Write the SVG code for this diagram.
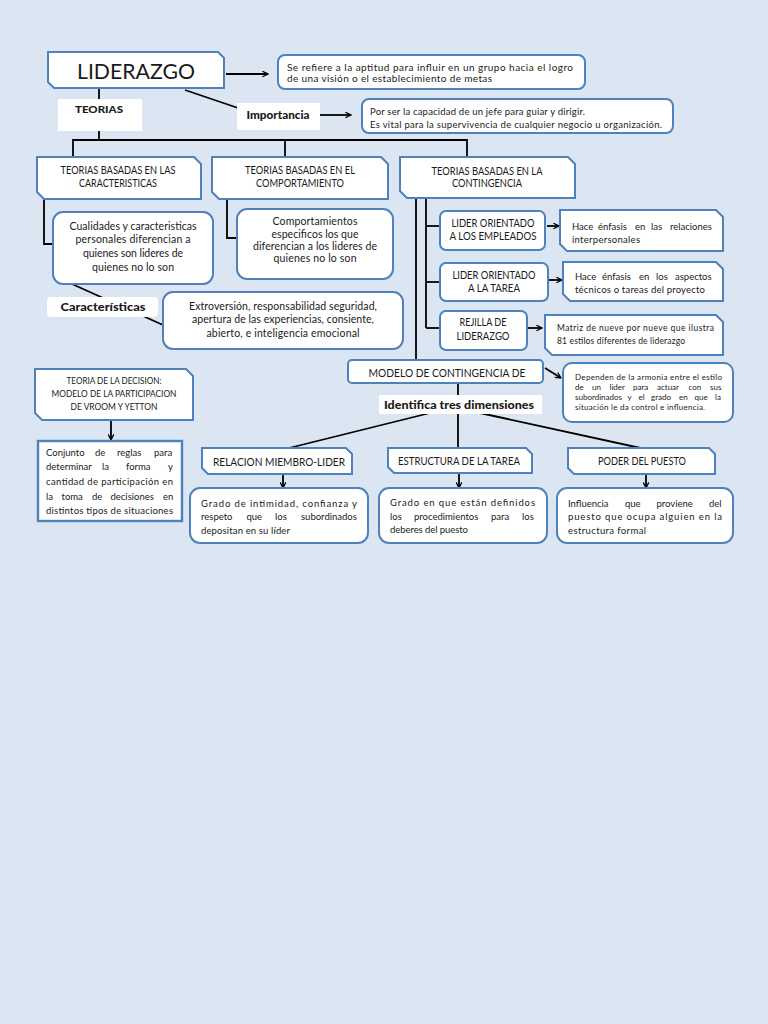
<svg xmlns="http://www.w3.org/2000/svg" width="768" height="1024" viewBox="0 0 768 1024">
<defs>
<marker id="ah" viewBox="0 0 10 10" refX="9" refY="5" markerWidth="7" markerHeight="7" markerUnits="userSpaceOnUse" orient="auto">
<path d="M1,1 L9,5 L1,9" fill="none" stroke="#000" stroke-width="1.8"/>
</marker>
<style>
.bx{fill:#fff;stroke:#4f81bd;stroke-width:2}
.sq{fill:#fff;stroke:#4f81bd;stroke-width:2.4}
.lbl{fill:#fff}
.ln{stroke:#000;stroke-width:1.8;fill:none}
.ar{stroke:#000;stroke-width:1.8;fill:none;marker-end:url(#ah)}
text{font-family:Lato,"Open Sans","Liberation Sans",sans-serif;fill:#1a1a1a}
.h{font-size:10.5px;text-anchor:middle}
.b{font-size:9.5px}
.c{font-size:10.5px;text-anchor:middle}
.k{font-weight:900;text-anchor:middle}
.s{font-size:8px}
</style>
</defs>
<rect width="768" height="1024" fill="#dce6f2"/>

<g id="connectors">
<line class="ar" x1="226" y1="74" x2="268" y2="74"/>
<line class="ln" x1="185" y1="90" x2="244" y2="110"/>
<line class="ln" x1="99" y1="88" x2="99" y2="140"/>
<polyline class="ln" points="73,157 73,140 467,140 467,157"/>
<line class="ln" x1="285" y1="140" x2="285" y2="157"/>
<line class="ar" x1="319" y1="115" x2="351" y2="115"/>
<polyline class="ln" points="44,199 44,244 53,244"/>
<polyline class="ln" points="227,199 227,238 237,238"/>
<line class="ln" x1="416" y1="198" x2="416" y2="360"/>
<line class="ln" x1="426" y1="198" x2="426" y2="328"/>
<line class="ln" x1="426" y1="226" x2="440" y2="226"/>
<line class="ln" x1="426" y1="282" x2="440" y2="282"/>
<line class="ln" x1="426" y1="328" x2="440" y2="328"/>
<line class="ar" x1="547" y1="226" x2="559" y2="226"/>
<line class="ar" x1="549" y1="280" x2="562" y2="280"/>
<line class="ar" x1="528" y1="328" x2="542" y2="328"/>
<line class="ln" x1="72" y1="284" x2="163" y2="325"/>
<line class="ar" x1="545" y1="368" x2="561" y2="378"/>
<line class="ln" x1="458" y1="383" x2="458" y2="448"/>
<line class="ln" x1="430" y1="413" x2="285" y2="449"/>
<line class="ln" x1="480" y1="413" x2="645" y2="449"/>
<line class="ar" x1="111" y1="420" x2="111" y2="440"/>
<line class="ar" x1="283" y1="474" x2="283" y2="488"/>
<line class="ar" x1="459" y1="473" x2="459" y2="488"/>
<line class="ar" x1="646" y1="474" x2="646" y2="488"/>
</g>

<g id="liderazgo">
<path class="bx" d="M48,52 H218 L224,58 V88 H54 L48,82 Z"/>
<text x="136" y="79" style="font-size:21px;text-anchor:middle" textLength="118" lengthAdjust="spacingAndGlyphs">LIDERAZGO</text>
</g>

<g id="definicion">
<rect class="bx" x="278" y="55" width="307" height="34" rx="7"/>
<text class="b" x="287" y="71" style="font-size:10px" textLength="286">Se refiere a la aptitud para influir en un grupo hacia el logro</text>
<text class="b" x="287" y="82" style="font-size:10px" textLength="205">de una visión o el establecimiento de metas</text>
</g>

<g id="teorias">
<rect class="lbl" x="58" y="99" width="84" height="32"/>
<text class="k" x="99" y="113" style="font-size:9.5px" textLength="48" lengthAdjust="spacingAndGlyphs">TEORIAS</text>
</g>

<g id="importancia-lbl">
<rect class="lbl" x="237" y="103" width="83" height="27"/>
<text class="k" x="278" y="119" style="font-size:10.5px" textLength="63" lengthAdjust="spacingAndGlyphs">Importancia</text>
</g>

<g id="importancia">
<rect class="bx" x="362" y="99" width="311" height="34" rx="7"/>
<text class="b" x="370" y="114.5" textLength="215">Por ser la capacidad de un jefe para guiar y dirigir.</text>
<text class="b" x="370" y="127.5" textLength="292">Es vital para la supervivencia de cualquier negocio u organización.</text>
</g>

<g id="t-caracteristicas">
<path class="bx" d="M37,157 H194 L201,164 V199 H44 L37,192 Z"/>
<text class="h" x="118" y="174" textLength="115" lengthAdjust="spacingAndGlyphs">TEORIAS BASADAS EN LAS</text>
<text class="h" x="118" y="186.5" textLength="78" lengthAdjust="spacingAndGlyphs">CARACTERISTICAS</text>
</g>

<g id="t-comportamiento">
<path class="bx" d="M212,157 H381 L388,164 V199 H219 L212,192 Z"/>
<text class="h" x="300" y="174" textLength="110" lengthAdjust="spacingAndGlyphs">TEORIAS BASADAS EN EL</text>
<text class="h" x="300" y="186.5" textLength="88" lengthAdjust="spacingAndGlyphs">COMPORTAMIENTO</text>
</g>

<g id="t-contingencia">
<path class="bx" d="M400,157 H568 L575,164 V198 H407 L400,191 Z"/>
<text class="h" x="487" y="174.5" textLength="111" lengthAdjust="spacingAndGlyphs">TEORIAS BASADAS EN LA</text>
<text class="h" x="487" y="187" textLength="70" lengthAdjust="spacingAndGlyphs">CONTINGENCIA</text>
</g>

<g id="cualidades">
<rect class="bx" x="53" y="212" width="160" height="72" rx="10"/>
<text class="c" x="133" y="229.5" textLength="127">Cualidades y caracteristicas</text>
<text class="c" x="133" y="243" textLength="115">personales diferencian a</text>
<text class="c" x="133" y="256.5" textLength="100">quienes son lideres de</text>
<text class="c" x="133" y="270.5" textLength="82">quienes no lo son</text>
</g>

<g id="comportamientos">
<rect class="bx" x="237" y="209" width="156" height="70" rx="10"/>
<text class="c" x="315" y="225" textLength="85">Comportamientos</text>
<text class="c" x="315" y="237.5" textLength="87">especificos los que</text>
<text class="c" x="315" y="249.5" textLength="124">diferencian a los lideres de</text>
<text class="c" x="315" y="261.5" textLength="83">quienes no lo son</text>
</g>

<g id="lider-empleados">
<rect class="bx" x="440" y="211" width="105" height="39" rx="6"/>
<text class="h" x="493" y="227" textLength="83" lengthAdjust="spacingAndGlyphs">LIDER ORIENTADO</text>
<text class="h" x="493" y="239.5" textLength="87" lengthAdjust="spacingAndGlyphs">A LOS EMPLEADOS</text>
</g>

<g id="hace-relaciones">
<path class="bx" d="M560,210 H716 L723,217 V251 H567 L560,244 Z"/>
<text class="b" y="229.5"><tspan x="572">Hace</tspan><tspan x="598">énfasis</tspan><tspan x="635">en</tspan><tspan x="651">las</tspan><tspan x="670">relaciones</tspan></text>
<text class="b" x="572" y="242.5" textLength="68">interpersonales</text>
</g>

<g id="lider-tarea">
<rect class="bx" x="440" y="263" width="108" height="38" rx="6"/>
<text class="h" x="494" y="278.5" textLength="83" lengthAdjust="spacingAndGlyphs">LIDER ORIENTADO</text>
<text class="h" x="494" y="291.5" textLength="52" lengthAdjust="spacingAndGlyphs">A LA TAREA</text>
</g>

<g id="hace-aspectos">
<path class="bx" d="M563,262 H716 L723,269 V301 H570 L563,294 Z"/>
<text class="b" y="279.5"><tspan x="575">Hace</tspan><tspan x="602">énfasis</tspan><tspan x="639">en</tspan><tspan x="656">los</tspan><tspan x="675">aspectos</tspan></text>
<text class="b" x="575" y="292.5" textLength="130">técnicos o tareas del proyecto</text>
</g>

<g id="rejilla">
<rect class="bx" x="440" y="311" width="87" height="39" rx="6"/>
<text class="h" x="483" y="325.5" textLength="47" lengthAdjust="spacingAndGlyphs">REJILLA DE</text>
<text class="h" x="483" y="339.5" textLength="53" lengthAdjust="spacingAndGlyphs">LIDERAZGO</text>
</g>

<g id="matriz">
<path class="bx" d="M545,315 H716 L723,322 V355 H552 L545,348 Z"/>
<text class="s" x="557" y="331" style="font-size:8.5px" textLength="157">Matriz de nueve por nueve que ilustra</text>
<text class="s" x="557" y="344" style="font-size:8.5px" textLength="128">81 estilos diferentes de liderazgo</text>
</g>

<g id="caracteristicas-lbl">
<rect class="lbl" x="47" y="297" width="111" height="20" rx="4"/>
<text class="k" x="103" y="311" style="font-size:11px" textLength="85" lengthAdjust="spacingAndGlyphs">Características</text>
</g>

<g id="extroversion">
<rect class="bx" x="163" y="292" width="240" height="57" rx="10"/>
<text class="c" x="283" y="309.5" textLength="188">Extroversión, responsabilidad seguridad,</text>
<text class="c" x="283" y="323" textLength="182">apertura de las experiencias, consiente,</text>
<text class="c" x="283" y="336.5" textLength="153">abierto, e inteligencia emocional</text>
</g>

<g id="modelo">
<rect class="bx" x="348" y="360" width="195" height="23" rx="4"/>
<text class="h" x="447" y="376.5" textLength="157" lengthAdjust="spacingAndGlyphs">MODELO DE CONTINGENCIA DE</text>
</g>

<g id="dependen">
<rect class="bx" x="563" y="363" width="170" height="59" rx="9"/>
<text class="s" x="575" y="380" textLength="147">Dependen de la armonia entre el estilo</text>
<text class="s" y="390"><tspan x="575">de</tspan><tspan x="592">un</tspan><tspan x="609.5">lider</tspan><tspan x="633">para</tspan><tspan x="657">actuar</tspan><tspan x="688.5">con</tspan><tspan x="710">sus</tspan></text>
<text class="s" y="400"><tspan x="575">subordinados</tspan><tspan x="627.5">y</tspan><tspan x="638.5">el</tspan><tspan x="651">grado</tspan><tspan x="679">en</tspan><tspan x="694.5">que</tspan><tspan x="715">la</tspan></text>
<text class="s" x="575" y="410" textLength="130">situación le da control e influencia.</text>
</g>

<g id="identifica">
<rect class="lbl" x="379" y="395" width="163" height="19"/>
<text class="k" x="459" y="408.5" style="font-size:10.5px" textLength="150" lengthAdjust="spacingAndGlyphs">Identifica tres dimensiones</text>
</g>

<g id="teoria-decision">
<path class="bx" d="M35,369 H186 L193,376 V420 H42 L35,413 Z"/>
<text class="h" x="114" y="384" style="font-size:9.5px" textLength="95" lengthAdjust="spacingAndGlyphs">TEORIA DE LA DECISION:</text>
<text class="h" x="114" y="397" style="font-size:9.5px" textLength="125" lengthAdjust="spacingAndGlyphs">MODELO DE LA PARTICIPACION</text>
<text class="h" x="114" y="409.5" style="font-size:9.5px" textLength="87" lengthAdjust="spacingAndGlyphs">DE VROOM Y YETTON</text>
</g>

<g id="conjunto">
<rect class="sq" x="38" y="441" width="144" height="80"/>
<text class="b" y="455.5"><tspan x="46">Conjunto</tspan><tspan x="95">de</tspan><tspan x="117">reglas</tspan><tspan x="154">para</tspan></text>
<text class="b" y="469.5"><tspan x="46">determinar</tspan><tspan x="102">la</tspan><tspan x="126">forma</tspan><tspan x="168">y</tspan></text>
<text class="b" x="46" y="484.5" textLength="127">cantidad de participación en</text>
<text class="b" y="499.5"><tspan x="46">la</tspan><tspan x="61.5">toma</tspan><tspan x="92">de</tspan><tspan x="110.5">decisiones</tspan><tspan x="163">en</tspan></text>
<text class="b" x="46" y="513.5" textLength="127">distintos tipos de situaciones</text>
</g>

<g id="relacion">
<path class="bx" d="M202,448 H346 L352,454 V474 H208 L202,468 Z"/>
<text class="h" x="279" y="465.5" textLength="132" lengthAdjust="spacingAndGlyphs">RELACION MIEMBRO-LIDER</text>
</g>

<g id="estructura">
<path class="bx" d="M388,448 H526 L532,454 V473 H394 L388,467 Z"/>
<text class="h" x="459" y="464.5" textLength="122" lengthAdjust="spacingAndGlyphs">ESTRUCTURA DE LA TAREA</text>
</g>

<g id="poder">
<path class="bx" d="M568,448 H709 L715,454 V474 H574 L568,468 Z"/>
<text class="h" x="642" y="465" textLength="88" lengthAdjust="spacingAndGlyphs">PODER DEL PUESTO</text>
</g>

<g id="grado-intimidad">
<rect class="bx" x="190" y="488" width="178" height="55" rx="10"/>
<text class="b" x="201" y="506.5" textLength="156">Grado de intimidad, confianza y</text>
<text class="b" y="520"><tspan x="201">respeto</tspan><tspan x="246.5">que</tspan><tspan x="275">los</tspan><tspan x="301">subordinados</tspan></text>
<text class="b" x="201" y="534" textLength="89">depositan en su líder</text>
</g>

<g id="grado-definidos">
<rect class="bx" x="379" y="488" width="168" height="55" rx="10"/>
<text class="b" x="390" y="505.5" textLength="145">Grado en que están definidos</text>
<text class="b" y="519.5"><tspan x="390">los</tspan><tspan x="414">procedimientos</tspan><tspan x="491">para</tspan><tspan x="522">los</tspan></text>
<text class="b" x="390" y="533" textLength="78">deberes del puesto</text>
</g>

<g id="influencia">
<rect class="bx" x="557" y="488" width="176" height="55" rx="10"/>
<text class="b" y="506.5"><tspan x="568">Influencia</tspan><tspan x="625">que</tspan><tspan x="656.5">proviene</tspan><tspan x="709">del</tspan></text>
<text class="b" x="568" y="520" textLength="154">puesto que ocupa alguien en la</text>
<text class="b" x="568" y="534" textLength="78">estructura formal</text>
</g>
</svg>
